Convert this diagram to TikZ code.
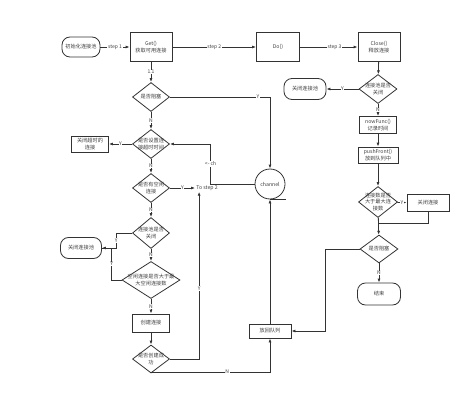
\documentclass[tikz,border=0pt]{standalone}
\usepackage{fontspec}
\setmainfont{Noto Sans CJK SC}
\usetikzlibrary{shapes.geometric,arrows.meta,calc}

\begin{document}
\begin{tikzpicture}[x=1pt,y=-1pt,
  every node/.style={font=\fontsize{5.2}{6.4}\selectfont,text=black!75,align=center},
  box/.style={draw=black!80,fill=white,line width=0.8pt,inner sep=0pt},
  term/.style={box,rounded corners=8pt},
  dec/.style={box,diamond},
  dlab/.style={inner sep=0pt},
  lab/.style={fill=white,inner sep=0.6pt,font=\fontsize{5}{6}\selectfont},
  ln/.style={draw=black!80,line width=0.8pt},
  arr/.style={ln,-{Latex[length=4pt,width=3pt]}}]
\useasboundingbox (0,0) rectangle (474,412);

% top row
\node[term,minimum width=38pt,minimum height=20pt] (init) at (81,47) {初始化连接池};
\node[box,minimum width=42pt,minimum height=29pt] (get) at (151,47) {Get()\\获取可用连接};
\node[box,minimum width=43pt,minimum height=29pt] (do) at (278,47) {Do()};
\node[box,minimum width=42pt,minimum height=29pt] (close) at (379,47) {Close()\\释放连接};

% left column
\node[dec,minimum width=37pt,minimum height=29pt,label={[dlab]center:是否阻塞}] (blk1) at (151,97) {};
\node[dec,minimum width=37pt,minimum height=29pt,label={[dlab]center:是否设置连\\接超时时间}] (tmo) at (151,144) {};
\node[box,minimum width=37pt,minimum height=16pt] (closeto) at (90,144) {关闭超时的\\连接};
\node[dec,minimum width=37pt,minimum height=29pt,label={[dlab]center:是否有空闲\\连接}] (idle) at (151,188) {};
\node[inner sep=1pt] (ts2) at (207,188) {To step 2};
\node[dec,minimum width=37pt,minimum height=31pt,label={[dlab]center:连接池是否\\关闭}] (pc1) at (151,233) {};
\node[term,minimum width=41pt,minimum height=21pt] (cp1) at (81,248) {关闭连接池};
\node[dec,minimum width=58pt,minimum height=37pt,label={[dlab]center:空闲连接是否大于最\\大空闲连接数}] (ifree) at (151,280) {};
\node[box,minimum width=37pt,minimum height=18pt] (create) at (151,323) {创建连接};
\node[dec,minimum width=37pt,minimum height=28pt,label={[dlab]center:是否创建成\\功}] (okq) at (151,359) {};

% middle
\node[box,circle,minimum size=30pt] (chan) at (270,184) {channel};
\node[box,minimum width=42pt,minimum height=14pt] (back) at (270,331) {放回队列};

% right column
\node[dec,minimum width=38pt,minimum height=29pt,label={[dlab]center:连接池是否\\关闭}] (pc2) at (378,89) {};
\node[term,minimum width=42pt,minimum height=21pt] (cp2) at (305,89) {关闭连接池};
\node[box,minimum width=37pt,minimum height=17pt] (now) at (378,125) {nowFunc()\\记录时间};
\node[box,minimum width=40pt,minimum height=16pt] (push) at (378,155) {pushFront()\\放到队列中};
\node[dec,minimum width=39pt,minimum height=31pt,label={[dlab]center:连接数是否\\大于最大连\\接数}] (maxc) at (378,202) {};
\node[box,minimum width=42pt,minimum height=17pt] (closec) at (428,203) {关闭连接};
\node[dec,minimum width=38pt,minimum height=28pt,label={[dlab]center:是否阻塞}] (blk2) at (379,249) {};
\node[term,minimum width=43pt,minimum height=22pt] (end) at (379,294) {结束};
\coordinate (j2) at (378,223);

\draw[arr] (init) -- node[lab]{step 1} (get);
\draw[arr] (get) -- node[lab]{step 2} (do);
\draw[arr] (do) -- node[lab,pos=0.6]{step 3} (close);
\draw[arr] (close) -- (pc2);
\draw[arr] (pc2) -- node[lab]{Y} (cp2);
\draw[arr] (pc2) -- node[lab]{N} (now);
\draw[arr] (now) -- (push);
\draw[arr] (push) -- (maxc);
\draw[arr] (maxc) -- node[lab]{Y} (closec);
\draw[arr] (maxc) -- (blk2);
\draw[ln] (closec) |- (j2);
\draw[arr] (blk2) -- node[lab]{N} (end);
\draw[arr] (blk2.west) -- ++(-34,0) |- (back.east);
\draw[arr] (back) -- (chan);
\draw[ln] (chan.south) -- ++(16,0);

\draw[arr] (get) -- node[lab]{1.1} (blk1);
\draw[arr] (blk1) -| node[lab,pos=0.44]{Y} (chan);
\draw[arr] (blk1) -- node[lab]{N} (tmo);
\draw[arr] (chan.west) -- ++(-44,0) |- node[lab,pos=0.25]{<- ch} (tmo.east);
\draw[arr] (tmo) -- node[lab]{Y} (closeto);
\draw[arr] (tmo) -- node[lab]{N} (idle);
\draw[arr] (idle) -- node[lab]{Y} (ts2);
\draw[arr] (idle) -- node[lab]{N} (pc1);
\draw[arr] (pc1.west) -- ++(-16,0) |- node[lab,pos=0.25]{Y} (cp1.east);
\draw[ln] (ifree.west) -- ++(-10,0) |- node[lab,pos=0.25]{Y} (cp1.east);
\draw[arr] (pc1) -- node[lab]{N} (ifree);
\draw[arr] (ifree) -- node[lab]{N} (create);
\draw[arr] (create) -- (okq);
\draw[arr] (okq) -| node[lab,pos=0.71]{Y} ([xshift=4pt]ts2.south west);
\draw[arr] (okq) -- ++(0,13) -| node[lab,pos=0.32]{N} (back);
\end{tikzpicture}
\end{document}
